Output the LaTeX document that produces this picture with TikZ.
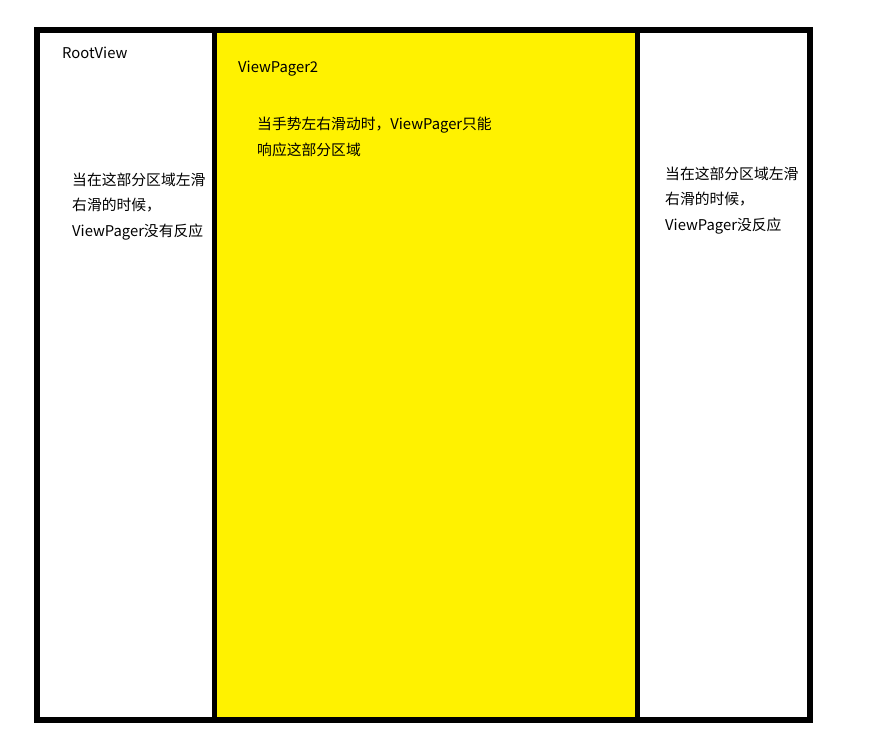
\documentclass[tikz,border=0pt]{standalone}
\usepackage{fontspec}
\setmainfont{Noto Sans CJK SC}
\usetikzlibrary{positioning}
\definecolor{pageryellow}{RGB}{255,242,0}

\begin{document}
\begin{tikzpicture}[x=1pt, y=-1pt,
    frame/.style={line width=5.5pt},
    note/.style={inner sep=0pt, anchor=base west, align=left,
                 font=\fontsize{14.8}{25.5}\selectfont}]
        \useasboundingbox (0,0) rectangle (869,747);
        \fill[pageryellow] (214,30) rectangle (637,720);
        \draw[frame] (37,30) rectangle (810,720);
        \draw[frame] (214.5,30) -- (214.5,720);
        \draw[frame] (637.5,30) -- (637.5,720);

        \node[note] (root_title)  at (62,58)  {RootView};
        \node[note] (pager_title) at (238,72) {ViewPager2};
        \node[note] (pager_text)  at (257,155) {当手势左右滑动时，ViewPager只能\\响应这部分区域};
        \node[note] (left_text)   at (72,236)  {当在这部分区域左滑\\右滑的时候，\\ViewPager没有反应};
        \node[note] (right_text)  at (665,230) {当在这部分区域左滑\\右滑的时候，\\ViewPager没反应};
\end{tikzpicture}
\end{document}
